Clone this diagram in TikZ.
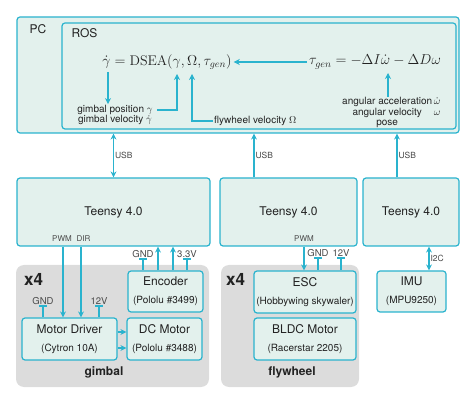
\documentclass[tikz,border=0pt]{standalone}
\usepackage{amsmath}
\usepackage{fontspec}
\setsansfont{TeX Gyre Heros}
\usetikzlibrary{arrows.meta,calc}

\definecolor{cyanline}{HTML}{2AB3CE}
\definecolor{boxfill}{HTML}{E3F1ED}
\definecolor{groupgray}{HTML}{DCDCDC}
\definecolor{textdark}{HTML}{222222}
\definecolor{textgray}{HTML}{4A4A4A}
\newcommand{\subtxt}{\fontsize{10}{12}\selectfont}

\begin{document}
\begin{tikzpicture}[x=1pt, y=-1pt, font=\sffamily]
    % Setup the styles for boxes, arrows and labels
    \tikzset{
      box/.style={draw=cyanline, fill=boxfill, line width=1.2pt,
        rounded corners=3pt, inner sep=0pt, align=center, text=textdark,
        font=\sffamily\fontsize{12}{14}\selectfont},
      group/.style={fill=groupgray, rounded corners=8pt, inner sep=0pt},
      arr/.style={draw=cyanline, line width=1.2pt,
        -{Stealth[length=6pt, width=6pt]}},
      darr/.style={arr, {Stealth[length=6pt, width=6pt]}-{Stealth[length=6pt, width=6pt]}},
      wire/.style={draw=cyanline, line width=1.2pt},
      title/.style={text=textdark, font=\sffamily\fontsize{12}{14}\selectfont},
      eq/.style={text=textdark, inner sep=2pt, font=\fontsize{14}{16}\selectfont},
      note/.style={text=textdark, inner sep=1pt, align=center,
        font=\sffamily\fontsize{10}{10}\selectfont},
      small/.style={text=textgray, inner sep=1pt,
        font=\sffamily\fontsize{8.5}{10}\selectfont},
      tiny/.style={text=textgray, inner sep=1pt,
        font=\sffamily\fontsize{8}{9}\selectfont},
      pin/.style={text=textgray, inner sep=1pt,
        font=\sffamily\fontsize{9.5}{10}\selectfont},
      mult/.style={text=textdark, inner sep=0pt,
        font=\sffamily\bfseries\fontsize{17}{18}\selectfont},
      grouplabel/.style={text=textdark,
        font=\sffamily\bfseries\fontsize{12}{14}\selectfont}
    }
    \useasboundingbox (0,0) rectangle (474,403);

    % PC and ROS
    \node[box, minimum width=442pt, minimum height=116pt] (pc)  at (238,75) {};
    \node[box, minimum width=394pt, minimum height=106pt] (ros) at (259,76) {};
    \node[title, anchor=west] (pclabel)  at (26,29) {PC};
    \node[title, anchor=west] (roslabel) at (68,33) {ROS};

    % Equations inside ROS
    \node[eq] (dsea)  at (167,62) {$\dot\gamma = \mathrm{DSEA}(\gamma, \Omega, \tau_{gen})$};
    \node[eq] (taueq) at (375,62) {$\tau_{gen} = -\Delta I\dot\omega - \Delta D\omega$};
    \coordinate (gdot) at (108,72);
    \coordinate (gin)  at (177,74);
    \coordinate (oin)  at (192,74);
    \coordinate (tin)  at (388,73);

    \node[note] (gimbaltxt) at (115,115) {gimbal position $\gamma$\\gimbal velocity $\dot\gamma$};
    \node[note, anchor=west] (fwtxt) at (213,121) {flywheel velocity $\Omega$};
    \node[note, anchor=west] (angtxt) at (341,113)
      {\begin{tabular}{@{}c@{\,}c@{}}angular acceleration & $\dot\omega$\\
        angular velocity & $\omega$\\ pose & \end{tabular}};

    \draw[arr] (taueq.west) -- (dsea.east);
    \draw[arr] (gdot) -- (gdot |- gimbaltxt.north);
    \draw[arr] ([xshift=3pt, yshift=5pt]gimbaltxt.east) -| (gin);
    \draw[arr] (fwtxt.west) -| (oin);
    \draw[arr] (angtxt.north -| tin) -- (tin);

    % Teensy boards
    \node[box, minimum width=193pt, minimum height=68pt] (teensyA) at (113.5,212) {Teensy 4.0};
    \node[box, minimum width=137pt, minimum height=68pt] (teensyB) at (288.5,212) {Teensy 4.0};
    \node[box, minimum width=96pt,  minimum height=68pt] (teensyC) at (411,212)   {Teensy 4.0};

    \draw[darr] (teensyA.north) -- (teensyA.north |- pc.south)
      node[midway, right, small] (usbA) {USB};
    \draw[arr] ([xshift=-34.5pt]teensyB.north) -- ([xshift=-34.5pt]teensyB.north |- pc.south)
      node[midway, right, small] (usbB) {USB};
    \draw[arr] ([xshift=-14pt]teensyC.north) -- ([xshift=-14pt]teensyC.north |- pc.south)
      node[midway, right, small] (usbC) {USB};

    % Gimbal and flywheel groups
    \node[group, minimum width=193pt, minimum height=122pt] (gimbalgrp)   at (112.5,326) {};
    \node[group, minimum width=138pt, minimum height=122pt] (flywheelgrp) at (290,326)   {};
    \node[mult, anchor=west] (multA) at (24,279)  {x4};
    \node[mult, anchor=west] (multB) at (226,279) {x4};
    \node[grouplabel] (gimballbl)   at (104,372) {gimbal};
    \node[grouplabel] (flywheellbl) at (292,372) {flywheel};

    \node[box, minimum width=75pt,  minimum height=41pt] (enc) at (165.5,291.5) {Encoder\\[4pt]{\subtxt (Pololu \#3499)}};
    \node[box, minimum width=95pt,  minimum height=42pt] (drv) at (69.5,339)    {Motor Driver\\[4pt]{\subtxt (Cytron 10A)}};
    \node[box, minimum width=75pt,  minimum height=42pt] (dcm) at (164.5,339)   {DC Motor\\[4pt]{\subtxt (Pololu \#3488)}};
    \node[box, minimum width=102pt, minimum height=42pt] (esc) at (305,292)     {ESC\\[4pt]{\subtxt (Hobbywing skywaler)}};
    \node[box, minimum width=102pt, minimum height=42pt] (bldc) at (305,339)    {BLDC Motor\\[4pt]{\subtxt (Racerstar 2205)}};
    \node[box, minimum width=69pt,  minimum height=41pt] (imu) at (411.5,291.5) {IMU\\[4pt]{\subtxt (MPU9250)}};

    % Signals
    \draw[arr] ([xshift=-6.5pt]drv.north |- teensyA.south) -- ([xshift=-6.5pt]drv.north)
      node[pos=0, above=3pt, xshift=-1pt, tiny] (pwmA) {PWM};
    \draw[arr] ([xshift=11.5pt]drv.north |- teensyA.south) -- ([xshift=11.5pt]drv.north)
      node[pos=0, above=3pt, xshift=2.5pt, tiny] (dirA) {DIR};
    \draw[arr] ([xshift=-7.5pt]enc.north) -- ([xshift=-7.5pt]enc.north |- teensyA.south);
    \draw[arr] ([xshift=7.5pt]enc.north) -- ([xshift=7.5pt]enc.north |- teensyA.south);
    \draw[arr] ([yshift=7pt]drv.east) -- ([yshift=7pt]drv.east -| dcm.west);
    \draw[arr] ([yshift=-9pt]drv.east) -- ([yshift=-9pt]drv.east -| dcm.west);
    \draw[arr] ([xshift=-1pt]esc.north |- teensyB.south) -- ([xshift=-1pt]esc.north)
      node[pos=0, above=3pt, tiny] (pwmB) {PWM};
    \draw[darr] ([xshift=17.5pt]imu.north |- teensyC.south) -- ([xshift=17.5pt]imu.north)
      node[midway, right, small] (i2c) {I2C};

    % Supply rails
    \foreach \x/\y/\lab/\dest [count=\i] in {143/259/GND/enc, 187/259/3.3V/enc,
        43/306/GND/drv, 99/306/12V/drv, 318/258/GND/esc, 341/258/12V/esc} {
      \coordinate (rail\i) at (\x,\y);
      \draw[wire] (rail\i) -- (rail\i |- \dest.north);
      \draw[wire] ([xshift=-4pt]rail\i) -- ([xshift=4pt]rail\i);
      \node[pin, above] (raillbl\i) at (rail\i) {\lab};
    }
\end{tikzpicture}
\end{document}
